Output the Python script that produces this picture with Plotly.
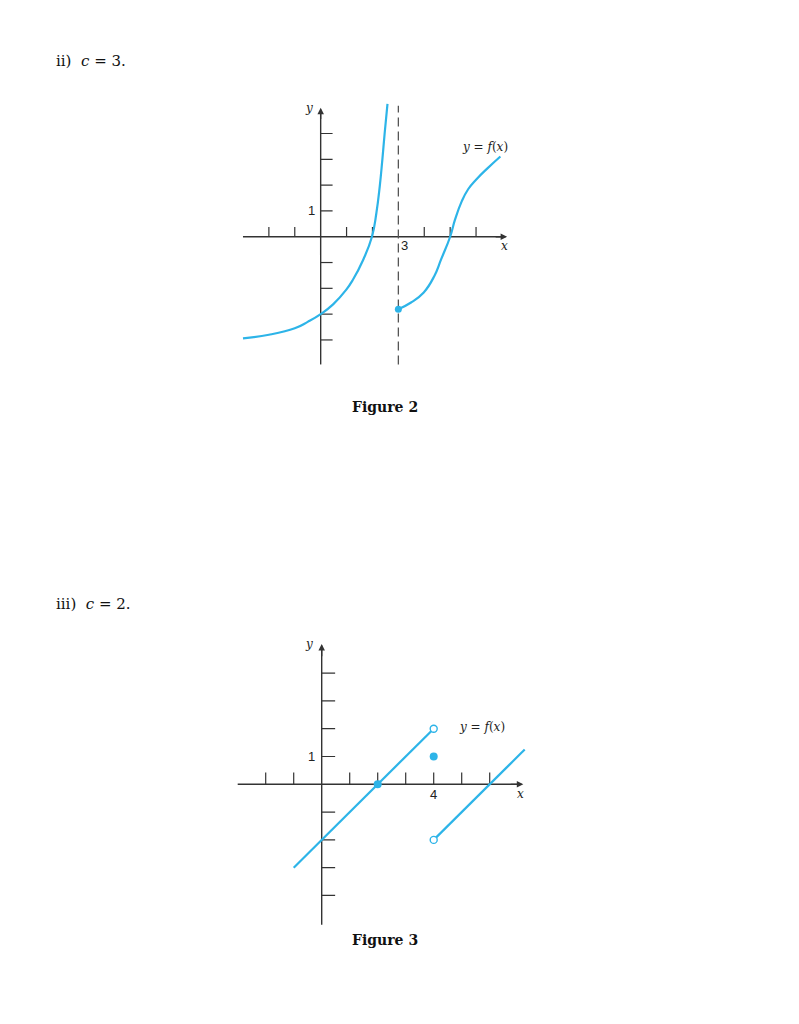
import plotly.graph_objects as go

W, H = 799, 1024
OFF = 8  # page body margin in the browser
BLUE = "#2db4e8"
INK = "#333333"
SERIF = "DejaVu Serif, Liberation Serif, serif"
SANS = "Liberation Sans, Arial, sans-serif"

# ---------------------------------------------------------------------------
# Figure 2 (c = 3): curve
# ---------------------------------------------------------------------------
f2_left_x = [-3.0, -2.0, -1.0, -0.5, 0.0, 0.48, 0.99, 1.25, 1.63, 1.98, 2.15, 2.28, 2.38, 2.47, 2.58]
f2_left_y = [-3.94, -3.8, -3.55, -3.3, -3.0, -2.62, -2.05, -1.66, -0.92, 0.0, 0.91, 1.94, 2.97, 4.0, 5.15]
f2_right_x = [3.0, 3.49, 3.98, 4.39, 4.65, 5.0, 5.19, 5.45, 5.7, 6.0, 6.45, 6.94]
f2_right_y = [-2.81, -2.55, -2.16, -1.52, -0.88, 0.0, 0.67, 1.38, 1.85, 2.21, 2.66, 3.11]
f2_asym_x = 3
f2_asym_y = [-4.95, 5.08]
f2_dot = (3.0, -2.81)
f2_xticks = [-2, -1, 1, 2, 4, 5, 6]
f2_yticks = [-4, -3, -2, -1, 1, 2, 3, 4]

# ---------------------------------------------------------------------------
# Figure 3 (c = 2)
# ---------------------------------------------------------------------------
f3_left_x = [-1.0, 4.0]
f3_left_y = [-3.0, 2.0]
f3_right_x = [4.0, 7.25]
f3_right_y = [-2.0, 1.25]
f3_filled_x = [2, 4]
f3_filled_y = [0, 1]
f3_open_x = [4, 4]
f3_open_y = [2, -2]
f3_xticks = [-2, -1, 1, 2, 3, 4, 5, 6]
f3_yticks = [-4, -3, -2, -1, 1, 2, 3, 4]

# axis extents (data units)
X_MIN, X_MAX = -3.0, 7.2
f2_ymin, f2_ymax = -4.95, 5.0
f3_ymin, f3_ymax = -5.05, 5.05


def px_to_paper(x, y):
    return (x - OFF) / W, 1 - (y - OFF) / H


def xdom(a, b):
    return [(a - OFF) / W, (b - OFF) / W]


def ydom(top, bottom):
    return [1 - (bottom - OFF) / H, 1 - (top - OFF) / H]


fig = go.Figure()


def add_axes(xa, ya, ymin, ymax, xticks, yticks, xlen, ylen):
    # axis lines
    fig.add_trace(go.Scatter(x=[X_MIN, X_MAX - 0.15], y=[0, 0], mode="lines",
                             line=dict(color=INK, width=1.4), xaxis=xa, yaxis=ya,
                             hoverinfo="skip"))
    fig.add_trace(go.Scatter(x=[0, 0], y=[ymin, ymax - 0.15], mode="lines",
                             line=dict(color=INK, width=1.4), xaxis=xa, yaxis=ya,
                             hoverinfo="skip"))
    # tick marks
    tx, ty = [], []
    for t in xticks:
        tx += [t, t, None]
        ty += [0, xlen, None]
    for t in yticks:
        tx += [0, ylen, None]
        ty += [t, t, None]
    fig.add_trace(go.Scatter(x=tx, y=ty, mode="lines",
                             line=dict(color=INK, width=1.2), xaxis=xa, yaxis=ya,
                             hoverinfo="skip"))
    # arrowheads
    fig.add_annotation(x=X_MAX, y=0, ax=X_MAX - 0.5, ay=0, xref=xa, yref=ya,
                       axref=xa, ayref=ya, showarrow=True, arrowhead=2,
                       arrowsize=1, arrowwidth=1.3, arrowcolor=INK, text="")
    fig.add_annotation(x=0, y=ymax, ax=0, ay=ymax - 0.5, xref=xa, yref=ya,
                       axref=xa, ayref=ya, showarrow=True, arrowhead=2,
                       arrowsize=1, arrowwidth=1.3, arrowcolor=INK, text="")


# ---- figure 2 ----
add_axes("x", "y", f2_ymin, f2_ymax, f2_xticks, f2_yticks, 0.38, 0.46)
fig.add_trace(go.Scatter(x=[f2_asym_x, f2_asym_x], y=f2_asym_y, mode="lines",
                         line=dict(color="#555555", width=1.3, dash="9px,5px"),
                         hoverinfo="skip"))
fig.add_trace(go.Scatter(x=f2_left_x, y=f2_left_y, mode="lines",
                         line=dict(color=BLUE, width=2.2, shape="spline", smoothing=1.3),
                         hoverinfo="skip"))
fig.add_trace(go.Scatter(x=f2_right_x, y=f2_right_y, mode="lines",
                         line=dict(color=BLUE, width=2.2, shape="spline", smoothing=1.3),
                         hoverinfo="skip"))
fig.add_trace(go.Scatter(x=[f2_dot[0]], y=[f2_dot[1]], mode="markers",
                         marker=dict(color=BLUE, size=7), hoverinfo="skip"))

# ---- figure 3 ----
add_axes("x2", "y2", f3_ymin, f3_ymax, f3_xticks, f3_yticks, 0.42, 0.48)
for xs, ys in [(f3_left_x, f3_left_y), (f3_right_x, f3_right_y)]:
    fig.add_trace(go.Scatter(x=xs, y=ys, mode="lines", xaxis="x2", yaxis="y2",
                             line=dict(color=BLUE, width=2.2), hoverinfo="skip"))
fig.add_trace(go.Scatter(x=f3_filled_x, y=f3_filled_y, mode="markers",
                         xaxis="x2", yaxis="y2",
                         marker=dict(color=BLUE, size=8), hoverinfo="skip"))
fig.add_trace(go.Scatter(x=f3_open_x, y=f3_open_y, mode="markers",
                         xaxis="x2", yaxis="y2",
                         marker=dict(color="white", size=7, line=dict(color=BLUE, width=1.4)),
                         hoverinfo="skip"))

# ---- labels inside the plots ----
lab = dict(showarrow=False, font=dict(family=SERIF, size=12, color="#222222"))
fig.add_annotation(x=6.34, y=3.49, xref="x", yref="y",
                   text="<i>y</i> = <i>f</i>(<i>x</i>)", **lab)
fig.add_annotation(x=5.74, y=2.07, xref="x2", yref="y2",
                   text="<i>y</i> = <i>f</i>(<i>x</i>)", **lab)
for xr, yr, xx, yx, xy, yy in [("x", "y", 7.1, -0.35, -0.45, 5.0),
                               ("x2", "y2", 7.1, -0.35, -0.45, 5.05)]:
    fig.add_annotation(x=xx, y=yx, xref=xr, yref=yr, text="<i>x</i>", **lab)
    fig.add_annotation(x=xy, y=yy, xref=xr, yref=yr, text="<i>y</i>", **lab)

num = dict(showarrow=False, font=dict(family=SANS, size=13, color="#222222"))
fig.add_annotation(x=-0.37, y=1, xref="x", yref="y", text="1", **num)
fig.add_annotation(x=3.22, y=-0.35, xref="x", yref="y", text="3", **num)
fig.add_annotation(x=-0.37, y=1, xref="x2", yref="y2", text="1", **num)
fig.add_annotation(x=4, y=-0.38, xref="x2", yref="y2", text="4", **num)

# ---- page text ----
page = dict(showarrow=False, xref="paper", yref="paper", xanchor="left", yanchor="middle",
            font=dict(family=SERIF, size=15, color="#111111"))
px, py = px_to_paper(54, 61)
fig.add_annotation(x=px, y=py, text="ii)  <i>c</i> = 3.", **page)
px, py = px_to_paper(54, 604)
fig.add_annotation(x=px, y=py, text="iii)  <i>c</i> = 2.", **page)
cap = dict(showarrow=False, xref="paper", yref="paper", xanchor="center", yanchor="middle",
           font=dict(family=SERIF, size=14, color="#111111"))
px, py = px_to_paper(385, 407)
fig.add_annotation(x=px, y=py, text="<b>Figure 2</b>", **cap)
px, py = px_to_paper(385, 940)
fig.add_annotation(x=px, y=py, text="<b>Figure 3</b>", **cap)

hidden = dict(visible=False, fixedrange=True)
fig.update_layout(
    width=W, height=H,
    margin=dict(l=0, r=0, t=0, b=0),
    paper_bgcolor="white", plot_bgcolor="white",
    showlegend=False,
    xaxis=dict(domain=xdom(237.8, 514.9), range=[-3.2, 7.5], **hidden),
    yaxis=dict(domain=ydom(97.4, 370.9), range=[-5.2, 5.4], **hidden),
    xaxis2=dict(domain=xdom(232.1, 531.7), range=[-3.2, 7.5], anchor="y2", **hidden),
    yaxis2=dict(domain=ydom(634.2, 931.6), range=[-5.3, 5.4], anchor="x2", **hidden),
)

fig.write_html("out.html")
